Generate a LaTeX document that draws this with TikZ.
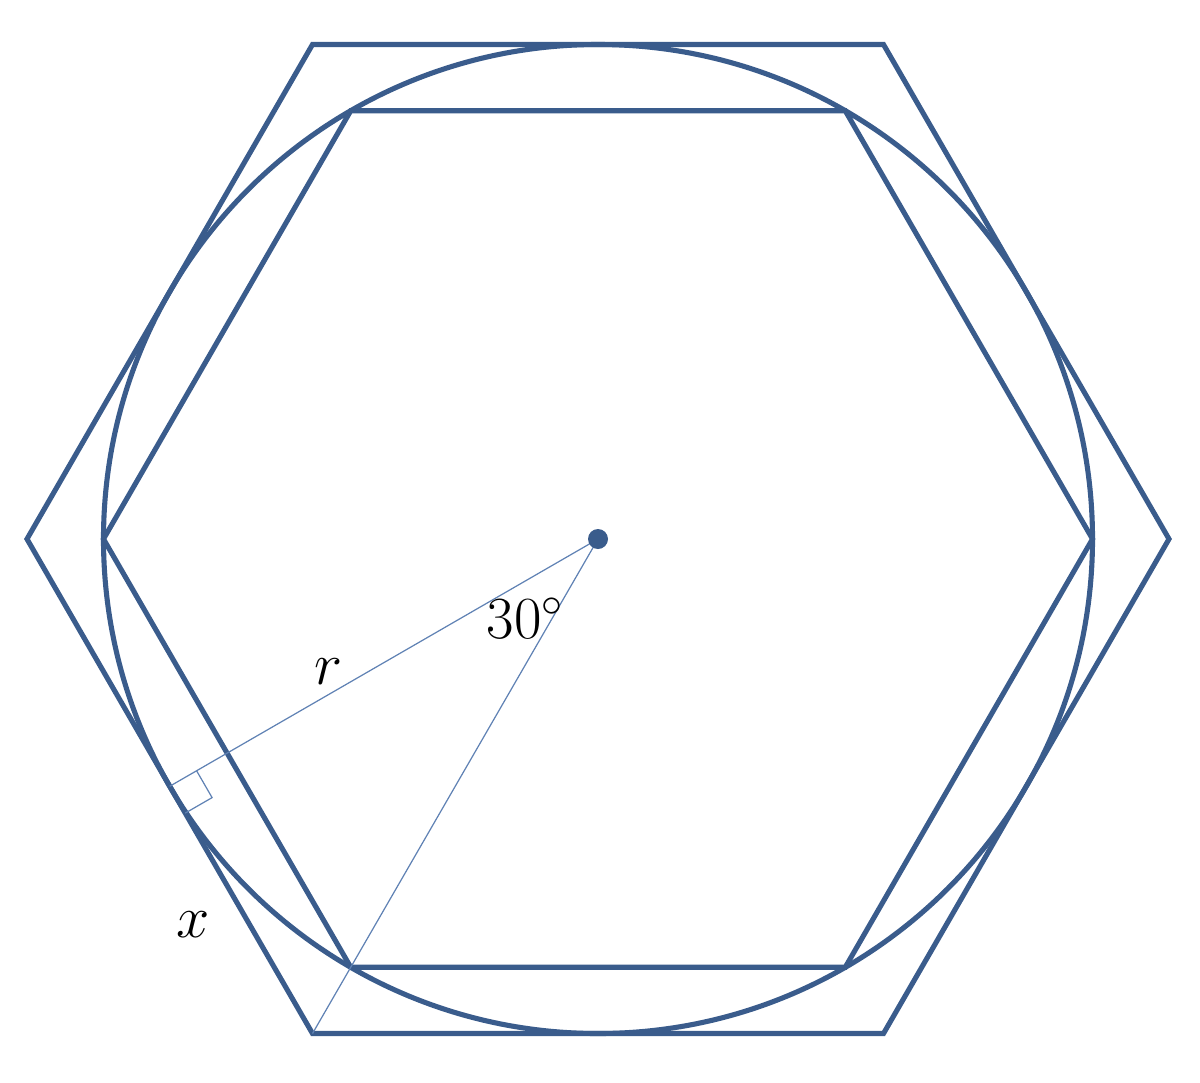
\documentclass[tikz,border=0pt]{standalone}
\usepackage{fix-cm}
\usetikzlibrary{calc}
\definecolor{hexblue}{RGB}{58,92,140}
\definecolor{rayblue}{RGB}{96,130,180}
\tikzset{
  hexline/.style={draw=hexblue, line width=2.9pt, line join=miter},
  rayline/.style={draw=rayblue, line width=0.7pt},
  lbl/.style={font=\fontsize{34}{40}\selectfont, inner sep=0pt}
}
\begin{document}
\begin{tikzpicture}
\useasboundingbox (-11.96,-10.86) rectangle (12.04,10.78);
\coordinate (O) at (0,0);
\foreach \i in {0,...,5}{
  \coordinate (A\i) at (\i*60:11.42);
  \coordinate (B\i) at (\i*60:9.89);
}
\draw[hexline] (A0) -- (A1) -- (A2) -- (A3) -- (A4) -- (A5) -- cycle;
\draw[hexline] (O) circle (9.89);
\draw[hexline] (B0) -- (B1) -- (B2) -- (B3) -- (B4) -- (B5) -- cycle;
\coordinate (M) at ($(A3)!0.5!(A4)$);
\draw[rayline] (O) -- (M);
\draw[rayline] (O) -- (A4);
\draw[rayline] ($(M)+(30:0.62)$) -- ++(-60:0.62) -- ++(210:0.62);
\fill[hexblue] (O) circle (0.2);
\node[lbl] (ang) at (-1.46,-1.58) {$30^\circ$};
\node[lbl] (r) at (-5.4,-2.66) {$r$};
\node[lbl] (x) at (-8.1,-7.72) {$x$};
\end{tikzpicture}
\end{document}
